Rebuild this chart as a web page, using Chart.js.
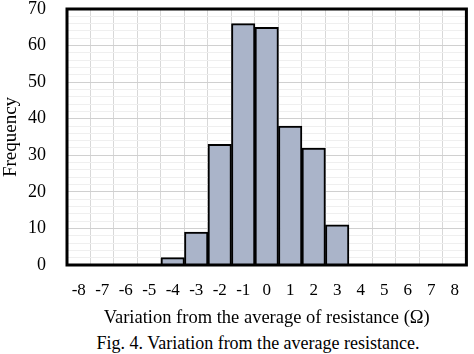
<!DOCTYPE html>
<html>
<head>
<meta charset="utf-8">
<script src="https://cdn.jsdelivr.net/npm/chart.js@4"></script>
<style>
  html, body { margin: 0; padding: 0; background: #fff; }
  #wrap { width: 474px; height: 333px; }
  #caption {
    width: 474px; height: 21px; box-sizing: border-box;
    padding-left: 42px; text-align: center;
    font: 18px/21px 'Liberation Serif', 'Times New Roman', serif; color: #000;
  }
</style>
</head>
<body>
<div id="wrap"><canvas id="histChart"></canvas></div>
<div id="caption">Fig. 4. Variation from the average resistance.</div>
<script>
/* data */
const bins = ['-8','-7','-6','-5','-4','-3','-2','-1','0','1','2','3','4','5','6','7','8'];
const frequency = [0, 0, 0, 0, 2, 9, 33, 66, 65, 38, 32, 11, 0, 0, 0, 0, 0];

const serif = 'Liberation Serif, Times New Roman, serif';

// thick frame round the plot area
const frame = {
  id: 'frame',
  afterDraw(chart) {
    const { ctx, chartArea: a } = chart;
    ctx.save();
    ctx.strokeStyle = '#000';
    ctx.lineWidth = 3;
    ctx.strokeRect(a.left, a.top, a.right - a.left, a.bottom - a.top);
    ctx.restore();
  },
};

new Chart(document.getElementById('histChart'), {
  type: 'bar',
  data: {
    labels: bins,
    datasets: [{
      label: 'Frequency',
      data: frequency,
      backgroundColor: '#aab4c9',
      borderColor: '#000',
      borderWidth: 2,
      barPercentage: 1,
      categoryPercentage: 1,
    }],
  },
  options: {
    responsive: true,
    maintainAspectRatio: false,
    animation: false,
    layout: { padding: { top: 9, right: 3, left: 0, bottom: 0 } },
    plugins: {
      legend: { display: false },
      tooltip: { enabled: false },
    },
    scales: {
      x: {
        afterFit: s => { s.height = 68; },
        grid: {
          offset: true,
          color: '#d8d8d8',
          drawTicks: false,
        },
        border: { display: false },
        ticks: {
          color: '#000',
          padding: 15,
          maxRotation: 0,
          autoSkip: false,
          font: { family: serif, size: 17 },
        },
        title: {
          display: true,
          text: 'Variation from the average of resistance (Ω)',
          color: '#000',
          font: { family: serif, size: 18.5 },
          padding: { top: 4, bottom: 4 },
        },
      },
      y: {
        min: 0,
        max: 70,
        afterFit: s => { s.width = 67; s.paddingTop = 0; s.paddingBottom = 0; },
        grid: {
          color: ctx => (ctx.tick && ctx.tick.value % 10 === 0) ? '#d0d0d0' : '#efefef',
          drawTicks: false,
        },
        border: { display: false },
        ticks: {
          stepSize: 2,
          autoSkip: false,
          color: '#000',
          padding: 21,
          font: { family: serif, size: 18 },
          callback: v => (v % 10 === 0 ? v : ''),
        },
        title: {
          display: true,
          text: 'Frequency',
          color: '#000',
          font: { family: serif, size: 19 },
          padding: { top: 0, bottom: 0 },
        },
      },
    },
  },
  plugins: [frame],
});
</script>
</body>
</html>
